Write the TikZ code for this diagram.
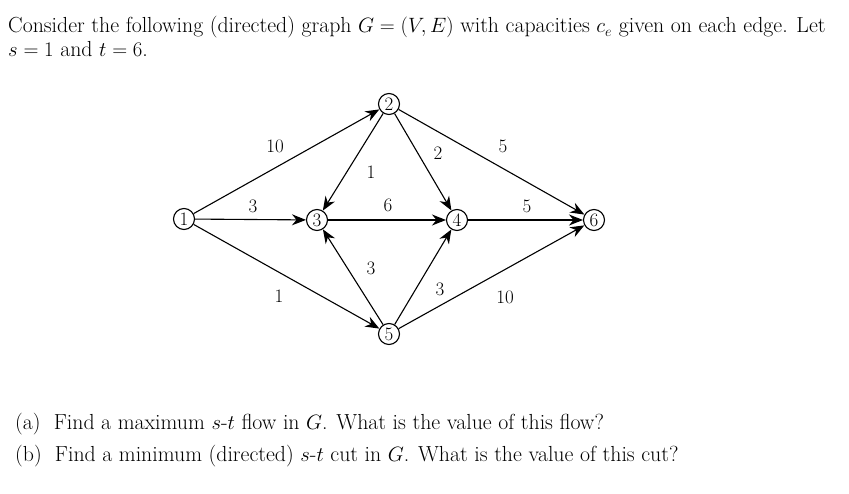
\documentclass[tikz,border=0pt]{standalone}
\usetikzlibrary{arrows.meta}
\begin{document}
\begin{tikzpicture}[x=1pt,y=-1pt,
  vtx/.style={circle,draw,line width=1.1pt,inner sep=0pt,minimum size=21pt,font=\fontsize{19}{22}\selectfont},
  edge/.style={draw,line width=1.1pt,-{Stealth[length=14pt,width=11pt]}},
  lbl/.style={font=\fontsize{19}{22}\selectfont},
  txt/.style={anchor=base west,inner sep=0pt,font=\fontsize{21.8}{26}\selectfont}]
\useasboundingbox (0,0) rectangle (849,494);
\node[txt] (l1) at (8,33) {Consider the following (directed) graph $G=(V,E)$ with capacities $c_e$ given on each edge. Let};
\node[txt] (l2) at (8,57) {$s=1$ and $t=6$.};
\node[txt] (qa) at (15,429) {(a)\ \ Find a maximum $s$-$t$ flow in $G$. What is the value of this flow?};
\node[txt] (qb) at (15,461) {(b)\ \ Find a minimum (directed) $s$-$t$ cut in $G$. What is the value of this cut?};
\node[vtx] (n1) at (184,219) {1};
\node[vtx] (n2) at (389,104) {2};
\node[vtx] (n3) at (317,220) {3};
\node[vtx] (n4) at (457,220) {4};
\node[vtx] (n5) at (389,334) {5};
\node[vtx] (n6) at (594,220) {6};
\path[edge] (n1) -- (n2);
\path[edge] (n1) -- (n3);
\path[edge] (n1) -- (n5);
\path[edge] (n2) -- (n3);
\path[edge] (n2) -- (n4);
\path[edge] (n2) -- (n6);
\path[edge] (n3) -- (n4);
\path[edge] (n5) -- (n3);
\path[edge] (n5) -- (n4);
\path[edge] (n4) -- (n6);
\path[edge] (n5) -- (n6);
\node[lbl] (e12) at (275,146) {10};
\node[lbl] (e13) at (253,206) {3};
\node[lbl] (e15) at (279,296) {1};
\node[lbl] (e23) at (371,172) {1};
\node[lbl] (e24) at (438,153) {2};
\node[lbl] (e26) at (503,146) {5};
\node[lbl] (e34) at (388,205) {6};
\node[lbl] (e46) at (527,206) {5};
\node[lbl] (e53) at (371,268) {3};
\node[lbl] (e54) at (440,289) {3};
\node[lbl] (e56) at (505,297) {10};
\end{tikzpicture}
\end{document}
